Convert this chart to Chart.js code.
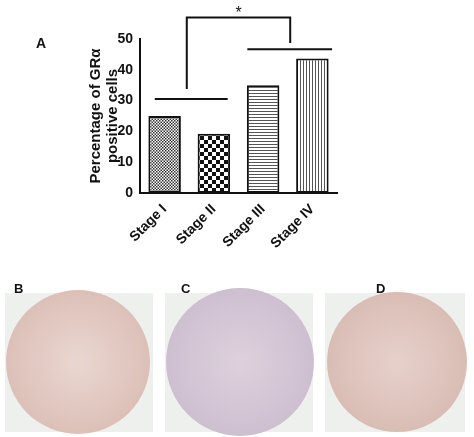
<!DOCTYPE html>
<html><head><meta charset="utf-8">
<script src="https://cdn.jsdelivr.net/npm/chart.js@4"></script>
<style>html,body{margin:0;padding:0;background:#fff}#w{position:relative;width:474px;height:437px}canvas{position:absolute;left:0;top:0}</style>
</head><body><div id="w"><canvas id="c" width="474" height="437"></canvas></div>
<script>
const categories = ["Stage I","Stage II","Stage III","Stage IV"];
const values = [25, 19.2, 35, 43.7];
const yTicks = [0,10,20,30,40,50];
const yTitle = ['Percentage of GRα','positive cells'];

function pat(kind){
  const c=document.createElement('canvas');const x=c.getContext('2d');
  if(kind==='fine'){c.width=c.height=3;x.fillStyle='#fff';x.fillRect(0,0,3,3);x.fillStyle='#333';x.fillRect(0,0,1.5,1.5);x.fillRect(1.5,1.5,1.5,1.5);}
  else if(kind==='check'){c.width=c.height=8;x.fillStyle='#fff';x.fillRect(0,0,8,8);x.fillStyle='#111';x.fillRect(0,0,4,4);x.fillRect(4,4,4,4);}
  else if(kind==='h'){c.width=c.height=3;x.fillStyle='#fff';x.fillRect(0,0,3,3);x.fillStyle='#555';x.fillRect(0,0,3,1);}
  else {c.width=c.height=3;x.fillStyle='#fff';x.fillRect(0,0,3,3);x.fillStyle='#555';x.fillRect(0,0,1,3);}
  return x.createPattern(c,'repeat');
}
const fills=[pat('fine'),pat('check'),pat('h'),pat('v')];

const extras={id:'extras',afterDraw(ch){
  const g=ch.ctx,xs=ch.scales.x,ys=ch.scales.y;
  const X=i=>xs.getPixelForValue(0)+i*(xs.getPixelForValue(1)-xs.getPixelForValue(0));
  g.save();g.strokeStyle='#111';g.lineWidth=2;
  g.beginPath();g.moveTo(X(-0.2),ys.getPixelForValue(30.5));g.lineTo(X(1.28),ys.getPixelForValue(30.5));g.stroke();
  g.beginPath();g.moveTo(X(1.68),ys.getPixelForValue(46.7));g.lineTo(X(3.4),ys.getPixelForValue(46.7));g.stroke();
  g.beginPath();g.moveTo(X(0.45),ys.getPixelForValue(33.8));g.lineTo(X(0.45),ys.getPixelForValue(57));
  g.lineTo(X(2.55),ys.getPixelForValue(57));g.lineTo(X(2.55),ys.getPixelForValue(48.7));g.stroke();
  g.fillStyle='#111';g.font='16px "Liberation Sans"';g.textAlign='center';g.textBaseline='top';g.fillText('*',X(1.5),ys.getPixelForValue(57)-12);
  // y title
  g.save();g.translate(104,ys.getPixelForValue(25));g.rotate(-Math.PI/2);g.textBaseline='middle';
  g.font='bold 15px "Liberation Sans"';g.fillText(yTitle[0],0,-8);g.fillText(yTitle[1],0,9);g.restore();
  g.textBaseline='alphabetic';
  g.font='bold 14px "Liberation Sans"';g.textAlign='left';g.fillText('A',36,48);
  const panels=[[5,153,78,72,'B',14,['#e9d5cf','#dcc0b8']],[165,313,240,74,'C',181,['#ddd0dc','#cdbfd0']],[325,465,397,70,'D',376,['#e6cfc9','#d9bdb5']]];
  panels.forEach(p=>{
    g.fillStyle='#edf0ec';g.fillRect(p[0],293,p[1]-p[0],139);
    const gr=g.createRadialGradient(p[2],362,5,p[2],362,p[3]);gr.addColorStop(0,p[6][0]);gr.addColorStop(1,p[6][1]);
    g.fillStyle=gr;g.beginPath();g.arc(p[2],362,p[3],0,Math.PI*2);g.fill();
    g.fillStyle='#111';g.font='bold 13px "Liberation Sans"';g.fillText(p[4],p[5],293);
  });
  g.restore();
}};

new Chart(document.getElementById('c'),{type:'bar',
 data:{labels:categories,datasets:[{data:values,backgroundColor:fills,borderColor:'#111',borderWidth:2,borderSkipped:false,categoryPercentage:0.66,barPercentage:1}]},
 options:{responsive:false,animation:false,events:[],
  layout:{padding:{top:39,right:137,left:0,bottom:0}},
  plugins:{legend:{display:false},tooltip:{enabled:false}},
  scales:{
   y:{min:0,max:50,afterBuildTicks(a){a.ticks=yTicks.map(v=>({value:v}));},afterFit(a){a.width=140;},
      grid:{display:false,drawTicks:true,tickLength:5,tickColor:'#111'},border:{color:'#111',width:2},
      ticks:{color:'#111',font:{family:'Liberation Sans',weight:'bold',size:14},padding:2}},
   x:{afterFit(a){a.height=244;},grid:{display:false,tickLength:5,tickColor:'#111'},border:{color:'#111',width:2},
      ticks:{color:'#111',maxRotation:45,minRotation:45,font:{family:'Liberation Sans',weight:'bold',size:14}}}
  }},plugins:[extras]});
</script></body></html>
